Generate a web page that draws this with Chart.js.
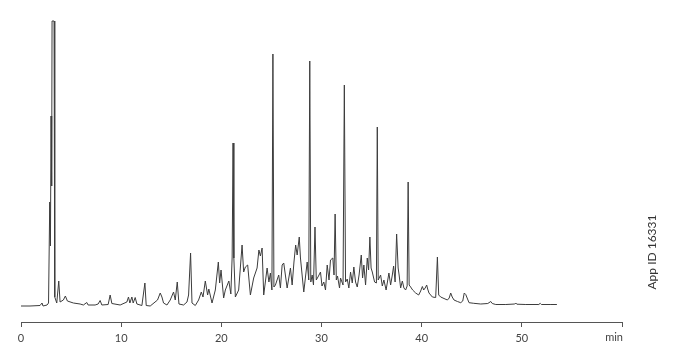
<!DOCTYPE html>
<html>
<head>
<meta charset="utf-8">
<script src="https://cdn.jsdelivr.net/npm/chart.js@4"></script>
<style>
  html, body { margin: 0; padding: 0; background: #fff; }
  #wrap { width: 677px; height: 360px; }
</style>
</head>
<body>
<div id="wrap"><canvas id="chrom" width="677" height="360"></canvas></div>
<script>
// retention time (min)
const times = [
  0, 0.9, 1.9, 2.1, 2.2, 2.6, 2.75, 2.87, 2.94, 3.0, 3.06, 3.1, 3.3, 3.37,
  3.57, 3.77, 3.9, 4.23, 4.43, 4.63, 5.23, 5.9, 6.23, 6.57, 6.7, 7.4, 7.7, 7.9, 8.07,
  8.7, 8.9, 9.07, 9.9, 10.57, 10.73, 10.87, 11.07, 11.2, 11.4, 11.57, 12.07, 12.37, 12.5,
  12.9, 13.63, 13.9, 14.07, 14.23, 14.57, 14.9, 15.23, 15.4, 15.6, 15.77, 16.23, 16.57,
  16.73, 16.93, 17.07, 17.4, 17.73, 18.0, 18.17, 18.4, 18.63, 18.75, 19.07, 19.4, 19.7,
  19.83, 19.97, 20.23, 20.4, 20.75, 20.95, 21.08, 21.17, 21.25, 21.4, 21.73, 22.07,
  22.23, 22.4, 22.63, 22.9, 23.23, 23.57, 23.75, 23.9, 24.07, 24.23, 24.57, 24.75, 24.9,
  25.05, 25.15, 25.25, 25.4, 25.73, 25.9, 26.07, 26.23, 26.57, 26.9, 27.07, 27.25,
  27.42, 27.57, 27.78, 27.9, 28.23, 28.57, 28.73, 28.83, 28.93, 29.07, 29.2, 29.35,
  29.48, 29.7, 29.9, 30.05, 30.23, 30.4, 30.57, 30.75, 30.9, 31.13, 31.25, 31.36, 31.48,
  31.6, 31.8, 31.9, 32.15, 32.28, 32.4, 32.57, 32.73, 32.9, 33.07, 33.23, 33.4, 33.57,
  33.75, 33.97, 34.1, 34.23, 34.4, 34.57, 34.7, 34.83, 34.95, 35.07, 35.3, 35.48, 35.57,
  35.66, 35.9, 36.07, 36.23, 36.45, 36.73, 36.9, 37.07, 37.2, 37.35, 37.5, 37.65, 37.75,
  37.9, 38.07, 38.23, 38.4, 38.55, 38.65, 38.75, 38.9, 39.1, 39.4, 39.7, 39.9, 40.07,
  40.2, 40.35, 40.5, 40.6, 40.73, 41.07, 41.4, 41.57, 41.7, 41.9, 42.23, 42.57, 42.75,
  42.9, 43.05, 43.23, 43.57, 43.9, 44.1, 44.25, 44.4, 44.5, 44.73, 45.2, 45.9, 46.6,
  46.9, 47.05, 47.4, 48.4, 49.3, 49.4, 49.5, 50.4, 51.7, 51.83, 51.95, 52.9, 53.5
];
// detector signal (arbitrary units)
const signal = [
  0, 0, 0.5, 3, 0, 1, 3, 104, 60, 190, 120, 285, 285, 9,
  3, 25, 4, 6, 10, 5, 3, 2, 1, 3.5, 1, 1, 2, 5.5, 1,
  1.5, 11, 2.5, 1, 4, 9, 3, 9, 3, 8.5, 2, 0.5, 23, 0.5,
  0, 6, 13, 9, 3, 1, 6, 14, 6, 24, 2, 1, 4,
  11, 53, 3, 0.5, 6, 14, 9, 25, 11, 17, 3, 16, 44,
  23, 36, 8, 16, 25, 12, 49, 163, 48, 9, 16, 61,
  34, 39, 41, 11, 28, 38, 56, 50, 58, 11, 38, 24, 33,
  16, 252, 19, 21, 31, 18, 41, 43, 18, 38, 21, 44,
  61, 51, 69, 48, 14, 44, 26, 245, 24, 31, 21, 79,
  26, 30, 34, 20, 24, 16, 41, 26, 46, 48, 31, 92, 26,
  30, 18, 28, 21, 221, 24, 27, 18, 34, 23, 39, 24, 19,
  31, 51, 28, 41, 21, 48, 36, 69, 38, 34, 24, 23, 179,
  26, 31, 20, 26, 16, 33, 21, 31, 40, 24, 72, 38, 31,
  18, 25, 18, 16, 20, 124, 21, 19, 16, 13, 11, 15, 19.5,
  16, 18, 21, 17, 13, 9, 8.5, 49, 11, 9, 7.5, 6, 8,
  13, 9, 6, 4.5, 3.3, 5, 13, 11.5, 9, 3.3, 2.7, 2, 2.5,
  4.5, 2.5, 1.5, 1.5, 2, 3, 1.8, 1.5, 1.5, 2.7, 1.5, 1.5, 1.5
];
const xTicks = [0, 10, 20, 30, 40, 50, 60];
const xUnit = 'min';
const appId = 'App ID 16331';

const points = times.map((t, i) => ({ x: t, y: signal[i] }));

// draws the unit label and the side note
const extraText = {
  id: 'extraText',
  afterDraw(chart) {
    const ctx = chart.ctx;
    const xs = chart.scales.x;
    ctx.save();
    ctx.fillStyle = '#444';
    ctx.font = '11px Lato, "Open Sans", sans-serif';
    ctx.textAlign = 'right';
    ctx.textBaseline = 'top';
    ctx.fillText(xUnit, xs.getPixelForValue(60) + 1, chart.chartArea.bottom + 10);
    ctx.translate(652, 252);
    ctx.rotate(-Math.PI / 2);
    ctx.textAlign = 'center';
    ctx.textBaseline = 'middle';
    ctx.fillStyle = '#333';
    ctx.font = '12px Lato, "Open Sans", sans-serif';
    ctx.fillText(appId, 0, 0);
    ctx.restore();
  }
};

new Chart(document.getElementById('chrom').getContext('2d'), {
  type: 'line',
  data: {
    datasets: [{
      data: points,
      borderColor: '#3c3c3c',
      borderWidth: 1,
      pointRadius: 0,
      tension: 0,
      fill: false
    }]
  },
  options: {
    responsive: false,
    animation: false,
    layout: { padding: { left: 21, right: 55, top: 10, bottom: 0 } },
    plugins: { legend: { display: false }, tooltip: { enabled: false } },
    scales: {
      x: {
        type: 'linear',
        min: 0,
        max: 60,
        afterBuildTicks: axis => { axis.ticks = xTicks.map(v => ({ value: v })); },
        afterFit: axis => { axis.height = 38; },
        grid: { drawOnChartArea: false, drawTicks: true, tickLength: 5, color: '#555', lineWidth: 1 },
        border: { display: true, color: '#555', width: 1 },
        ticks: {
          padding: 5,
          color: '#444',
          font: { family: 'Lato, "Open Sans", sans-serif', size: 11 },
          maxRotation: 0,
          callback: v => (v === 60 ? '' : v)
        }
      },
      y: {
        display: false,
        min: -16,
        max: 296
      }
    }
  },
  plugins: [extraText]
});
</script>
</body>
</html>
